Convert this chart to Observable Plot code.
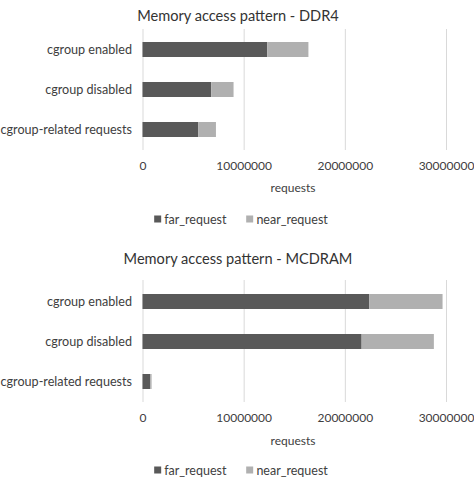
<!DOCTYPE html>
<html>
<head>
<meta charset="utf-8">
<script src="https://cdn.jsdelivr.net/npm/d3@7"></script>
<script src="https://cdn.jsdelivr.net/npm/@observablehq/plot@0.6"></script>
<style>
  html, body { margin: 0; padding: 0; background: #fff; overflow: hidden; }
  #root { position: relative; width: 474px; height: 478px; font-family: Lato, "Open Sans", sans-serif; color: #404040; overflow: hidden; }
  .abs { position: absolute; white-space: nowrap; }
  .title { font-size: 14.6px; color: #333; transform: translate(-50%, -50%); }
  .axlab { font-size: 12px; color: #404040; transform: translate(-50%, -50%); }
  .legend { font-size: 12.5px; color: #404040; transform: translate(-50%, -50%); display: flex; align-items: center; gap: 3px; }
  .sw { display: inline-block; width: 7px; height: 7px; }
  .panel { position: absolute; left: 0; }
</style>
</head>
<body>
<div id="root"></div>
<script>
const categories = ["cgroup enabled", "cgroup disabled", "cgroup-related requests"];
const seriesNames = ["far_request", "near_request"];
const ddr4Far = [12330000, 6800000, 5500000];
const ddr4Near = [4070000, 2200000, 1760000];
const mcdramFar = [22400000, 21660000, 780000];
const mcdramNear = [7260000, 7140000, 120000];
const xTicks = [0, 10000000, 20000000, 30000000];
const titles = ["Memory access pattern - DDR4", "Memory access pattern - MCDRAM"];
const colors = ["#595959", "#b0b0b0"];

function tidy(far, near) {
  const rows = [];
  categories.forEach((c, i) => {
    rows.push({cat: c, series: seriesNames[0], value: far[i]});
    rows.push({cat: c, series: seriesNames[1], value: near[i]});
  });
  return rows;
}

function panel(far, near, mt, mb) {
  return Plot.plot({
    width: 474,
    height: 200,
    marginLeft: 142.5,
    marginRight: 28,
    marginTop: mt,
    marginBottom: mb,
    style: {fontFamily: "Lato, 'Open Sans', sans-serif", fontSize: "12px", color: "#404040", background: "transparent", overflow: "visible"},
    x: {domain: [0, 30000000], ticks: xTicks, tickFormat: d => String(d), tickSize: 0, tickPadding: 12, label: null},
    y: {domain: categories, paddingInner: 0.63, paddingOuter: 0.315, tickSize: 0, tickPadding: 12, label: null},
    color: {domain: seriesNames, range: colors},
    marks: [
      Plot.ruleX(xTicks, {stroke: "#d9d9d9", strokeWidth: 1, strokeOpacity: 1}),
      Plot.barX(tidy(far, near), {x: "value", y: "cat", fill: "series"}),
      Plot.axisX({ticks: xTicks, tickFormat: d => String(d), tickSize: 0, tickPadding: 11, label: null, fill: "#404040", fontSize: 12}),
      Plot.axisY({tickSize: 0, tickPadding: 11, label: null, fill: "#404040", fontSize: 12.6})
    ]
  });
}

const root = document.getElementById("root");
function addDiv(cls, html, x, y) {
  const d = document.createElement("div");
  d.className = "abs " + cls;
  d.style.left = x + "px";
  d.style.top = y + "px";
  d.innerHTML = html;
  root.appendChild(d);
  return d;
}

const p1 = panel(ddr4Far, ddr4Near, 29, 50);
p1.classList.add("panel"); p1.style.top = "0px";
root.appendChild(p1);
const p2 = panel(mcdramFar, mcdramNear, 40, 38);
p2.classList.add("panel"); p2.style.top = "240px";
root.appendChild(p2);

addDiv("title", titles[0], 238, 15);
addDiv("title", titles[1], 238, 258);
addDiv("axlab", "requests", 293, 187);
addDiv("axlab", "requests", 293, 440);
const legendHtml = seriesNames.map((s, i) =>
  `<span class="sw" style="background:${colors[i]}"></span><span style="margin-right:${i === 0 ? 17 : 0}px">${s}</span>`).join("");
addDiv("legend", legendHtml, 241, 219);
addDiv("legend", legendHtml, 241, 470);
</script>
</body>
</html>
